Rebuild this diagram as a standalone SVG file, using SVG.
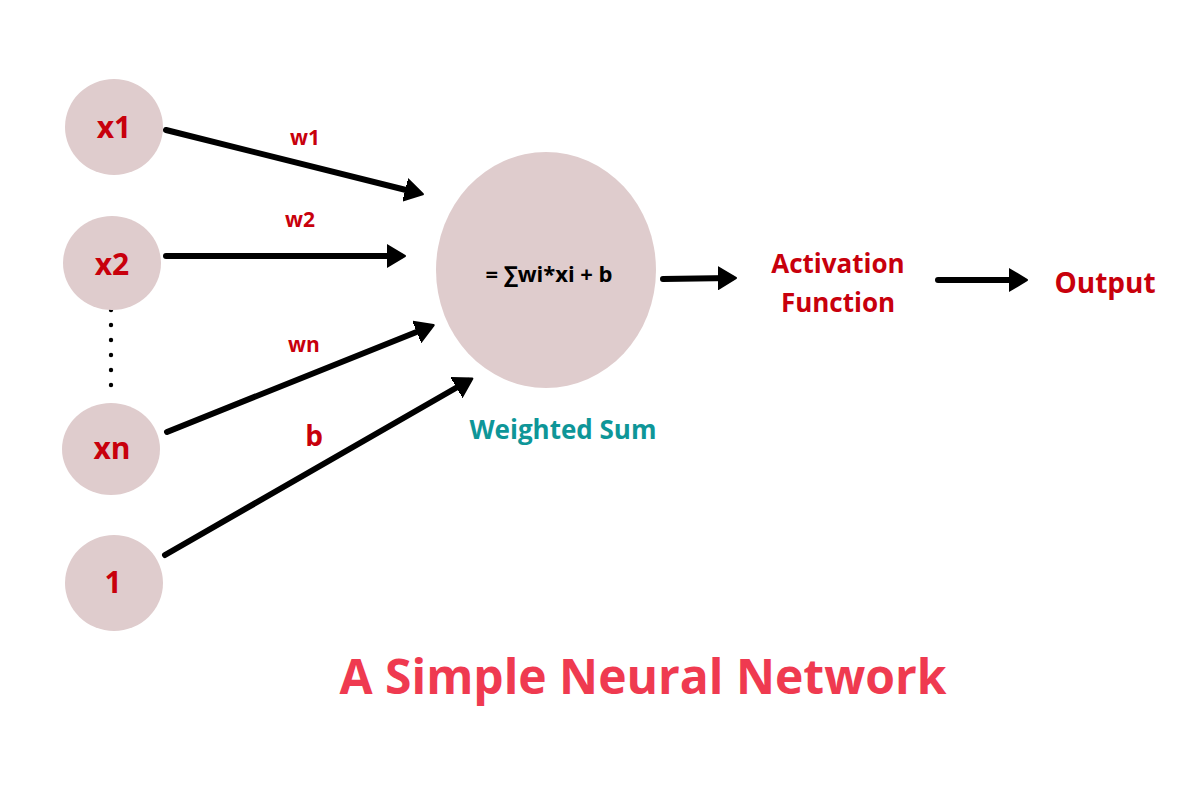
<svg xmlns="http://www.w3.org/2000/svg" width="1200" height="800" viewBox="0 0 1200 800">
<style>
text{font-family:"Open Sans","Noto Sans",sans-serif;font-weight:700;text-anchor:middle}
.n{fill:#dfcccd}
.r{fill:#c8000c}
.c{stroke:#000;stroke-width:6;stroke-linecap:round;fill:none;marker-end:url(#a)}
</style>
<defs><marker id="a" markerWidth="4" markerHeight="4" refX="2.2" refY="2" orient="auto" markerUnits="strokeWidth"><path d="M0,0.2 L3,2 L0,3.8 Z" fill="#000" stroke="#000" stroke-width="0.4" stroke-linejoin="round"/></marker></defs>
<rect width="1200" height="800" fill="#fff"/>
<g id="connectors">
<line class="c" x1="166" y1="130" x2="418" y2="193"/>
<line class="c" x1="166" y1="256" x2="400" y2="256"/>
<line class="c" x1="167" y1="432" x2="429" y2="327"/>
<line class="c" x1="165" y1="555" x2="468" y2="381"/>
<line class="c" x1="663" y1="279" x2="731" y2="278"/>
<line class="c" x1="938" y1="280" x2="1022" y2="280"/>
<g fill="#000"><circle cx="111" cy="310" r="2.2"/><circle cx="111" cy="325" r="2.2"/><circle cx="111" cy="340" r="2.2"/><circle cx="111" cy="355" r="2.2"/><circle cx="111" cy="370" r="2.2"/><circle cx="111" cy="385" r="2.2"/></g>
</g>
<g id="x1"><ellipse class="n" cx="114" cy="127" rx="49" ry="48"/><text class="r" x="114" y="138" font-size="30">x1</text></g>
<g id="x2"><ellipse class="n" cx="112" cy="263" rx="49" ry="47"/><text class="r" x="112" y="275" font-size="30">x2</text></g>
<g id="xn"><ellipse class="n" cx="111" cy="449" rx="49" ry="46"/><text class="r" x="112" y="459" font-size="30">xn</text></g>
<g id="one"><ellipse class="n" cx="114" cy="583" rx="49" ry="48"/><text class="r" x="113" y="593" font-size="30">1</text></g>
<g id="sum"><ellipse class="n" cx="546" cy="270" rx="110" ry="118"/><text x="549" y="282" font-size="22" fill="#000">= ∑wi*xi + b</text></g>
<text class="r" x="305" y="145" font-size="21">w1</text>
<text class="r" x="300" y="227" font-size="21">w2</text>
<text class="r" x="304" y="352" font-size="21">wn</text>
<text class="r" x="314" y="446" font-size="28">b</text>
<text x="563" y="439" font-size="26" fill="#0e9698">Weighted Sum</text>
<g id="act"><text class="r" x="838" y="273" font-size="26">Activation</text><text class="r" x="838" y="312" font-size="26">Function</text></g>
<g id="out"><text class="r" x="1105" y="293" font-size="28">Output</text></g>
<text x="643" y="694" font-size="48" fill="#ef3a50">A Simple Neural Network</text>
</svg>
